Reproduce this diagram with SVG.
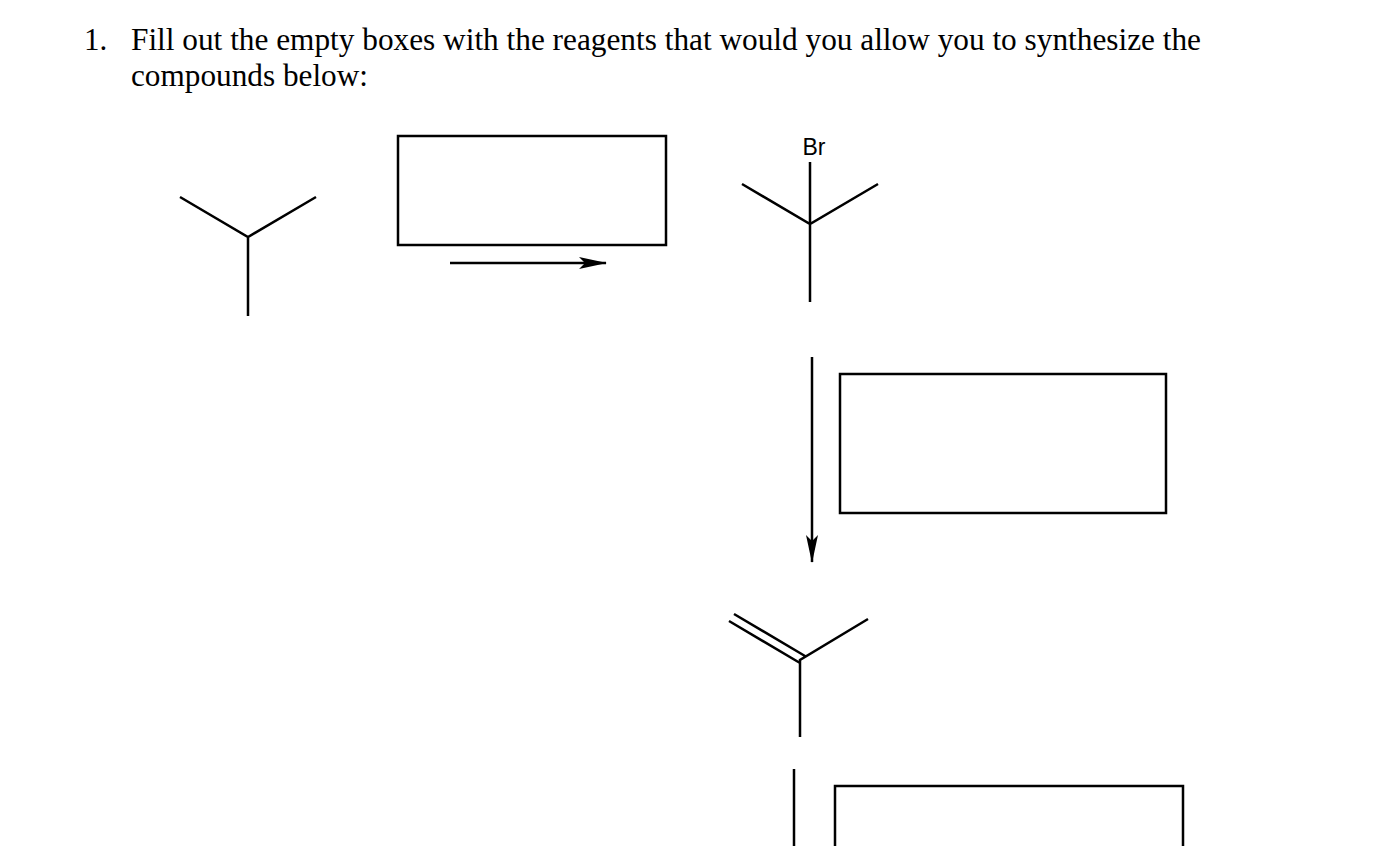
<svg xmlns="http://www.w3.org/2000/svg" width="1393" height="846" viewBox="0 0 1393 846">
<style>
.t{font-family:"Liberation Serif",serif;font-size:31px;fill:#000}
.b{fill:none;stroke:#000;stroke-width:2.5}
.box{fill:#fff;stroke:#000;stroke-width:2.5}
</style>
<defs>
<marker id="ah2" viewBox="0 0 28 12" markerWidth="28" markerHeight="12" refX="27" refY="6" orient="auto" markerUnits="userSpaceOnUse"><path d="M0,0 L28,6 L0,12 L6,6z" fill="#000"/></marker></defs>
<rect width="1393" height="846" fill="#fff"/>
<text class="t" x="84" y="50">1.</text>
<text class="t" x="131" y="50" textLength="1070" lengthAdjust="spacingAndGlyphs">Fill out the empty boxes with the reagents that would you allow you to synthesize the</text>
<text class="t" x="131" y="86" textLength="237" lengthAdjust="spacingAndGlyphs">compounds below:</text>
<g id="start"><path class="b" d="M180,197 L248,237 L316,197 M248,237 L248,316"/></g>
<g id="box1"><rect class="box" x="398" y="136" width="268" height="109"/></g>
<g id="bromide"><text x="814" y="155" text-anchor="middle" font-family="Liberation Sans,Arial,sans-serif" font-size="23">Br</text><path class="b" d="M810,162 L810,302 M742,184 L810,224 L878,184"/></g>
<g id="box2"><rect class="box" x="840" y="374" width="326" height="139"/></g>
<g id="alkene"><path class="b" d="M800,737 L800,660 L868,619 M734,614 L805,656 M729,621 L800,663"/></g>
<g id="box3"><path class="box" d="M835,846 L835,786 L1183,786 L1183,846"/></g>
<g id="connectors"><path class="b" d="M450,263 L606,263" marker-end="url(#ah2)"/><path class="b" d="M812,357 L812,562" marker-end="url(#ah2)"/><path class="b" d="M794,769 L794,846"/></g>
</svg>
